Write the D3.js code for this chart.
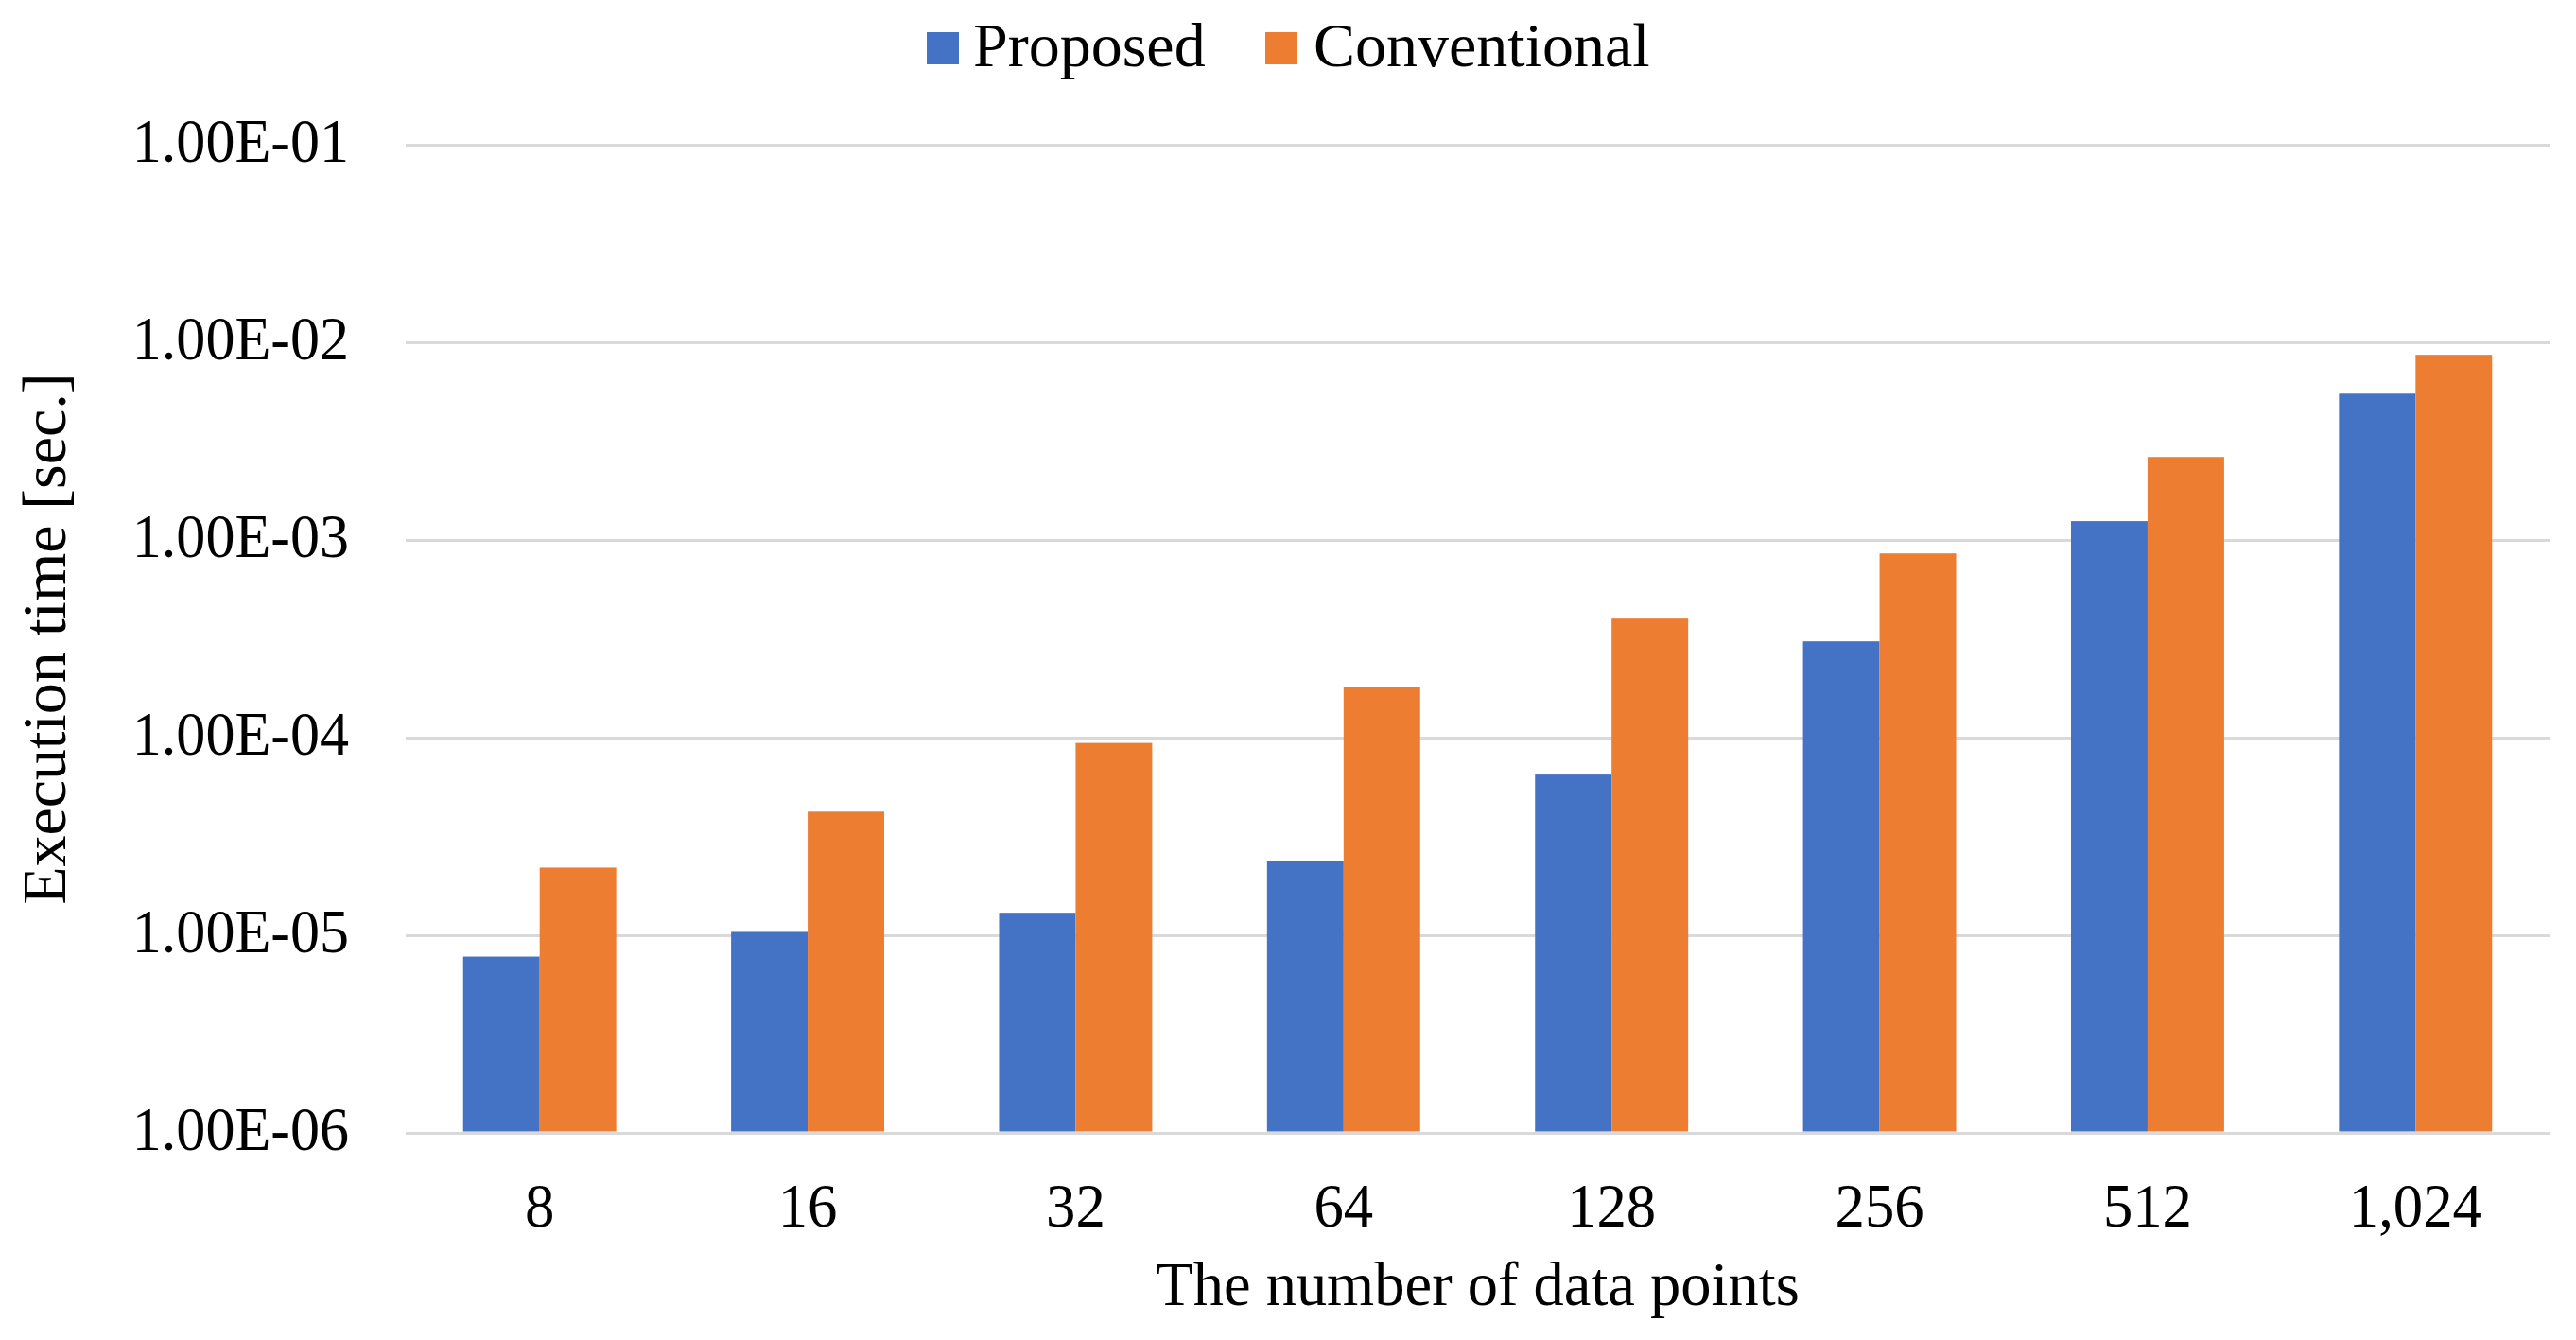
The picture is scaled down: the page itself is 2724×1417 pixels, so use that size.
<!DOCTYPE html>
<html>
<head>
<meta charset="utf-8">
<script src="https://cdn.jsdelivr.net/npm/d3@7"></script>
<style>
html,body{margin:0;padding:0;background:#fff;}
svg{display:block;}
text{font-family:"Liberation Serif","Times New Roman",serif;fill:#000;}
</style>
</head>
<body>
<script>
const categories = ["8","16","32","64","128","256","512","1,024"];
const seriesNames = ["Proposed","Conventional"];
const proposed = [7.8e-6, 1.04e-5, 1.30e-5, 2.38e-5, 6.5e-5, 3.07e-4, 1.245e-3, 5.5e-3];
const conventional = [2.2e-5, 4.22e-5, 9.4e-5, 1.81e-4, 4.0e-4, 8.55e-4, 2.63e-3, 8.65e-3];
const seriesColors = ["#4472C4","#ED7D31"];
const yTickValues = [1e-6, 1e-5, 1e-4, 1e-3, 1e-2, 1e-1];
const yTickLabels = ["1.00E-06","1.00E-05","1.00E-04","1.00E-03","1.00E-02","1.00E-01"];
const xTitle = "The number of data points";
const yTitle = "Execution time [sec.]";

const W = 2724, H = 1417;
const plot = {left: 429, right: 2696, top: 153, bottom: 1198};
const fontSize = 66;

const svg = d3.select("body").append("svg").attr("width", W).attr("height", H);

// slightly condense text horizontally to match the reference face
function condense(sel, f) {
  sel.each(function() {
    const L = this.getComputedTextLength();
    d3.select(this).attr("textLength", L * f).attr("lengthAdjust", "spacingAndGlyphs");
  });
}

const x = d3.scaleBand().domain(categories).range([plot.left, plot.right])
  .paddingInner(1.5/3.5).paddingOuter(0.75/3.5);
const xs = d3.scaleBand().domain(seriesNames).range([0, x.bandwidth()]);
const y = d3.scaleLog().domain([1e-6, 1e-1]).range([plot.bottom, plot.top]);

// gridlines + y labels
const yAxis = d3.axisLeft(y).tickValues(yTickValues)
  .tickSize(-(plot.right - plot.left))
  .tickFormat((d, i) => yTickLabels[i]);
const gy = svg.append("g").attr("transform", `translate(${plot.left},0)`).call(yAxis);
gy.select(".domain").remove();
gy.selectAll(".tick line").attr("stroke", "#D9D9D9").attr("stroke-width", 3);
gy.selectAll(".tick text").attr("x", -(plot.left - 369)).attr("dy", "0.26em")
  .style("font-size", fontSize + "px").style("font-family", '"Liberation Serif",serif').attr("fill", "#000");
condense(gy.selectAll(".tick text"), 0.94);

// bars
const data = categories.map((c, i) => ({cat: c, vals: [proposed[i], conventional[i]]}));
const groups = svg.append("g").selectAll("g").data(data).join("g")
  .attr("transform", d => `translate(${x(d.cat)},0)`);
groups.selectAll("rect").data(d => d.vals.map((v, j) => ({v, s: seriesNames[j], j})))
  .join("rect")
  .attr("x", d => xs(d.s))
  .attr("width", xs.bandwidth())
  .attr("y", d => y(d.v))
  .attr("height", d => y(1e-6) - 1.5 - y(d.v))
  .attr("fill", d => seriesColors[d.j]);

// x axis
const xAxis = d3.axisBottom(x).tickSize(0).tickPadding(0);
const gx = svg.append("g").attr("transform", `translate(0,${plot.bottom})`).call(xAxis);
gx.select(".domain").attr("stroke", "#D9D9D9").attr("stroke-width", 3);
gx.selectAll(".tick text").attr("y", 99).attr("dy", 0)
  .style("font-size", fontSize + "px").style("font-family", '"Liberation Serif",serif').attr("fill", "#000");
condense(gx.selectAll(".tick text"), 0.95);

// axis titles
const xt = svg.append("text").attr("x", (plot.left + plot.right) / 2).attr("y", 1380)
  .attr("text-anchor", "middle").style("font-size", fontSize + "px").text(xTitle);
condense(xt, 0.977);
svg.append("text").attr("transform", `translate(69,${(plot.top + plot.bottom) / 2}) rotate(-90)`)
  .attr("text-anchor", "middle").style("font-size", fontSize + "px").text(yTitle);

// legend
const legend = svg.append("g");
const legendItems = [{x: 980, tx: 1029}, {x: 1338, tx: 1389}];
seriesNames.forEach((n, i) => {
  legend.append("rect").attr("x", legendItems[i].x).attr("y", 34).attr("width", 34).attr("height", 34)
    .attr("fill", seriesColors[i]);
  legend.append("text").attr("x", legendItems[i].tx).attr("y", 70)
    .style("font-size", fontSize + "px").text(n);
});
</script>
</body>
</html>
